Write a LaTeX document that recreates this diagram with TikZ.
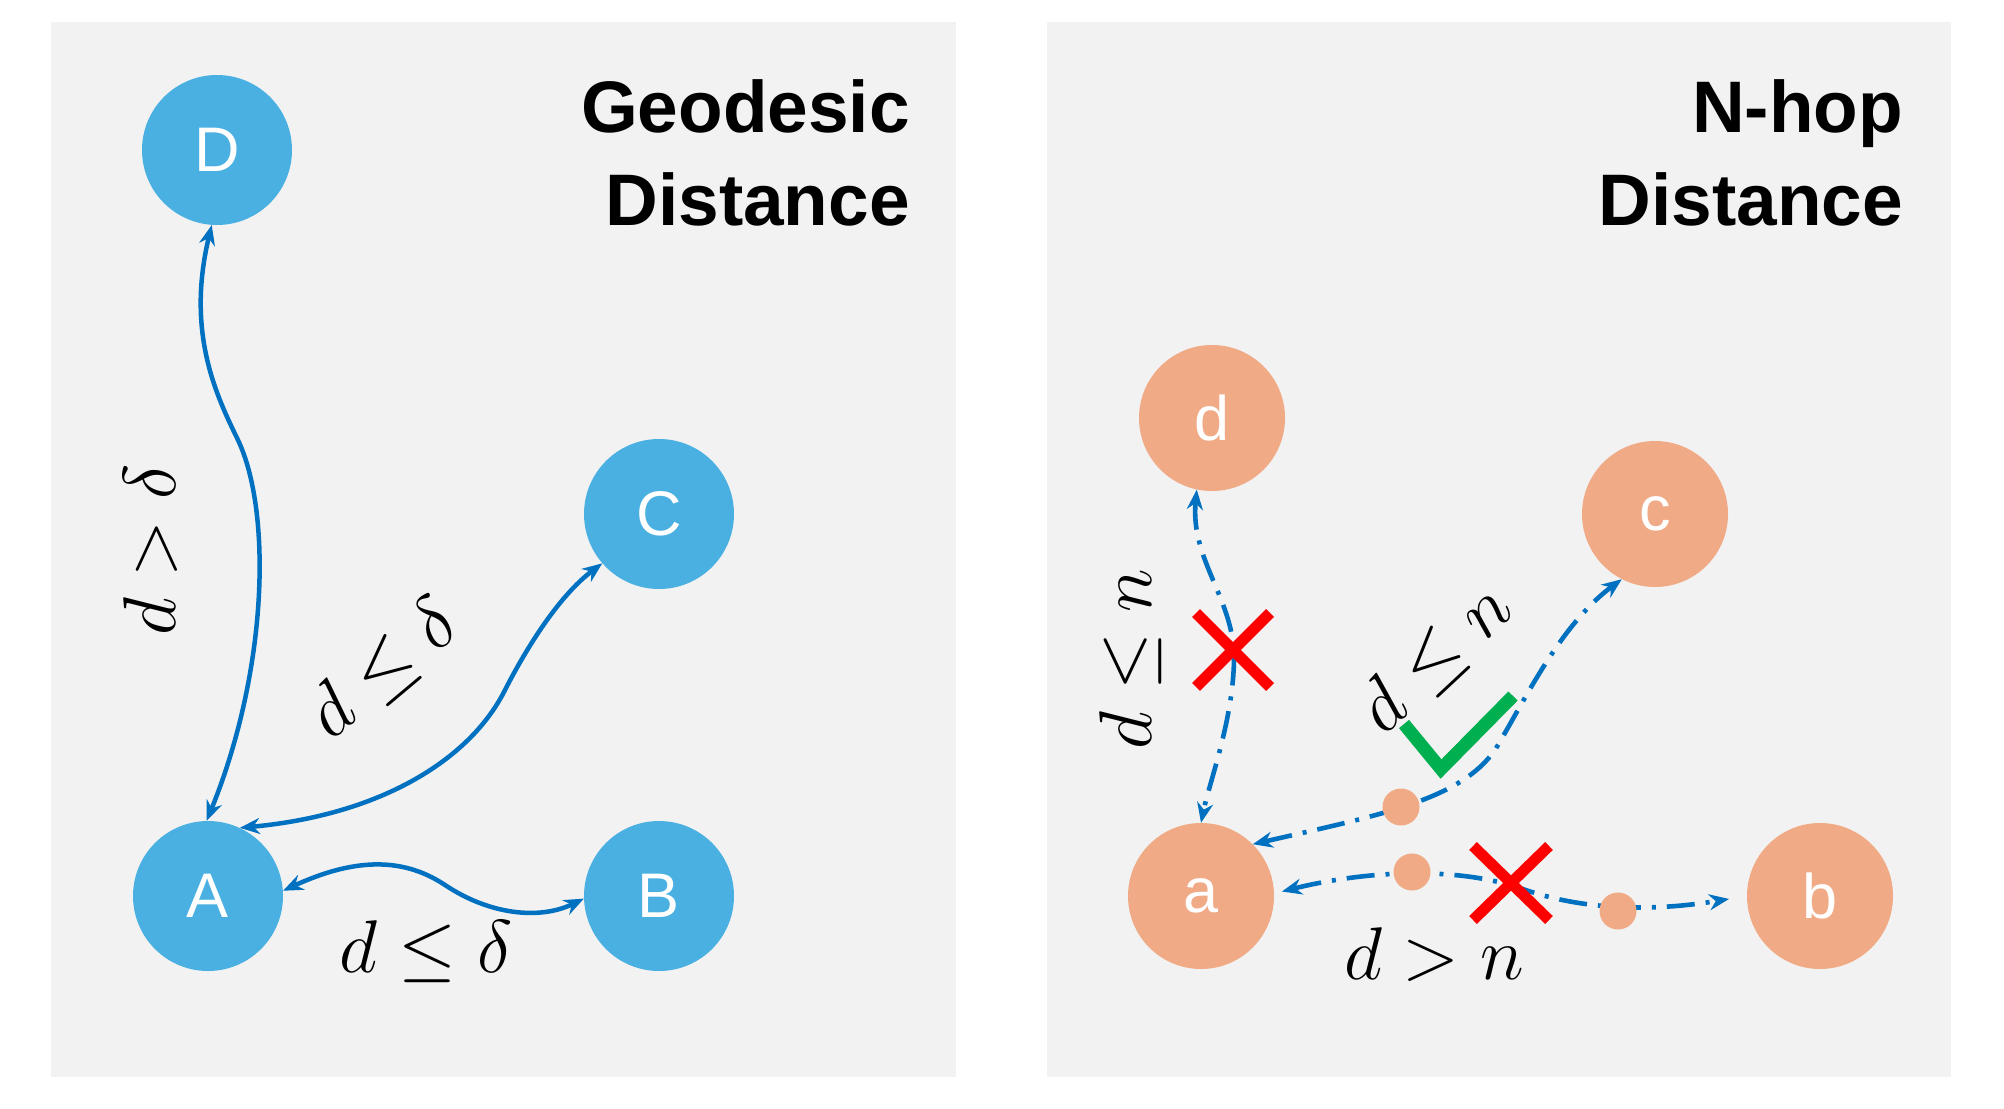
\documentclass[tikz,border=0pt]{standalone}
\usepackage{fontspec}
\setmainfont{Liberation Sans}
\usetikzlibrary{arrows.meta}
\definecolor{panelgray}{RGB}{242,242,242}
\definecolor{nodeblue}{RGB}{74,176,226}
\definecolor{salmon}{RGB}{240,170,134}
\definecolor{arrowblue}{RGB}{0,112,192}
\definecolor{checkgreen}{RGB}{0,176,80}
\definecolor{crossred}{RGB}{255,0,0}
\tikzset{
  gnode/.style={circle, fill=nodeblue, minimum size=150pt, inner sep=0pt, text=white, font=\fontsize{63}{70}\selectfont},
  hnode/.style={gnode, fill=salmon, minimum size=146pt},
  geo/.style={draw=arrowblue, line width=4.5pt, {Stealth[length=20pt,width=16pt]}-{Stealth[length=20pt,width=16pt]}},
  hop/.style={geo, line width=4.6pt, dash pattern=on 28pt off 11pt on 4pt off 11pt},
  mathlbl/.style={inner sep=0pt, scale=3, font=\fontsize{24}{28}\selectfont},
  titletext/.style={anchor=base east, inner sep=0pt, font=\fontsize{73}{90}\selectfont\bfseries},
  hopdot/.style={circle, fill=salmon, minimum size=37pt, inner sep=0pt},
  crossline/.style={draw=crossred, line width=11pt},
  checkline/.style={draw=checkgreen, line width=13pt},
}
\begin{document}
\begin{tikzpicture}[x=1pt,y=-1pt]
\useasboundingbox (0,0) rectangle (2004,1108);
\fill[white] (0,0) rectangle (2004,1108);
\fill[panelgray] (51,22) rectangle (956,1077);
\fill[panelgray] (1047,22) rectangle (1951,1077);

% titles
\node[titletext] (t1a) at (910,132) {Geodesic};
\node[titletext] (t1b) at (910,225) {Distance};
\node[titletext] (t2a) at (1903,132) {N-hop};
\node[titletext] (t2b) at (1903,225) {Distance};

% left nodes
\node[gnode] (D) at (217,150) {D};
\node[gnode] (C) at (659,514) {C};
\node[gnode] (A) at (208,896) {A};
\node[gnode] (B) at (659,896) {B};

% left connectors
\draw[geo] (D.266) .. controls (186,332) and (216,395) .. (238,440)
  .. controls (272,512) and (268,670) .. (A.91);
\draw[geo] (A.65) .. controls (380,815) and (470,760) .. (505,690)
  .. controls (528,645) and (560,595) .. (C.221);
\draw[geo] (A.4) .. controls (350,860) and (400,855) .. (445,885)
  .. controls (490,915) and (540,920) .. (B.182);

% left labels
\node[mathlbl, rotate=90] (l1) at (151,550) {$d>\delta$};
\node[mathlbl, rotate=40] (l2) at (384,670) {$d\leq\delta$};
\node[mathlbl] (l3) at (426,952) {$d\leq\delta$};

% right nodes
\node[hnode] (d) at (1212,418) {d};
\node[hnode] (c) at (1655,514) {c};
\node[hnode] (a) at (1201,896) {a};
\node[hnode] (b) at (1820,896) {b};

% right connectors
\draw[hop] (d.258) .. controls (1190,560) and (1235,600) .. (1234,660)
  .. controls (1233,720) and (1210,780) .. (a.90);
\draw[hop] (a.45) .. controls (1380,815) and (1460,800) .. (1495,750)
  .. controls (1525,700) and (1560,625) .. (c.243);
\draw[hop, shorten <=8pt, shorten >=18pt] (a.2) .. controls (1360,872) and (1450,865) .. (1520,888)
  .. controls (1580,910) and (1650,912) .. (b.180);

% intermediate hop dots
\node[hopdot] (h1) at (1401,807) {};
\node[hopdot] (h2) at (1412,872) {};
\node[hopdot] (h3) at (1618,911) {};

% marks
\draw[crossline] (1196,613) -- (1270,687) (1196,687) -- (1270,613);
\draw[crossline] (1473,846) -- (1549,920) (1473,920) -- (1549,846);
\draw[checkline] (1404,724) -- (1441,769) -- (1513,696);

% right labels
\node[mathlbl, rotate=90] (r1) at (1131,659) {$d\leq n$};
\node[mathlbl, rotate=43] (r2) at (1436,659) {$d\leq n$};
\node[mathlbl] (r3) at (1434,955) {$d>n$};
\end{tikzpicture}
\end{document}
